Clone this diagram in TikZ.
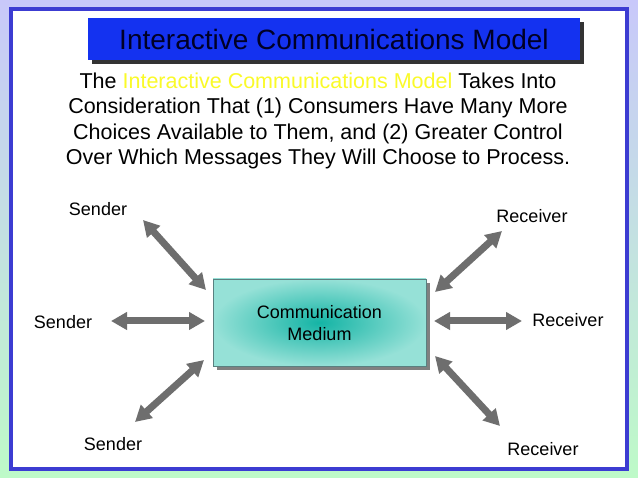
\documentclass[tikz,border=0pt]{standalone}
\usepackage{fontspec}
\setmainfont{Liberation Sans}
\usetikzlibrary{arrows.meta}
\definecolor{bgtop}{RGB}{200,200,250}
\definecolor{bgbot}{RGB}{190,250,200}
\definecolor{frame}{RGB}{60,60,210}
\definecolor{titleblue}{RGB}{20,50,240}
\definecolor{hl}{RGB}{250,250,40}
\definecolor{tealc}{RGB}{20,180,165}
\definecolor{teale}{RGB}{150,225,215}
\definecolor{arr}{RGB}{110,110,110}
\tikzset{
  lbl/.style={font=\fontsize{18}{20}\selectfont, inner sep=0pt},
  biarrow/.style={draw=arr, line width=7pt, {Triangle[width=17pt,length=16pt]}-{Triangle[width=17pt,length=16pt]}, shorten <=0pt, shorten >=0pt},
}
\begin{document}
\begin{tikzpicture}[x=1pt,y=-1pt]
\shade[top color=bgtop, bottom color=bgbot] (0,0) rectangle (638,478);
\useasboundingbox (0,0) rectangle (638,478);
\draw[frame, line width=4pt, fill=white] (11,9) rectangle (627,469);
% title
\fill[black!80] (92,22) rectangle (584,64);
\node[fill=titleblue, minimum width=492pt, minimum height=42pt, inner sep=0pt,
  font=\fontsize{28}{30}\selectfont, text=black!85!blue] (title) at (334,39) {Interactive Communications Model};
% body
\node[align=center, font=\fontsize{21.5}{25.5}\selectfont, inner sep=0pt] (body) at (318,121)
 {The {\color{hl}Interactive Communications Model} Takes Into\\
  Consideration That (1) Consumers Have Many More\\
  Choices Available to Them, and (2) Greater Control\\
  Over Which Messages They Will Choose to Process.};
% medium box
\fill[gray] (217,283) rectangle (430,370);
\shade[inner color=tealc, outer color=teale] (213,279) rectangle (426,366);
\draw[gray!70!teal] (213,279) rectangle (426,366);
\node[align=center, font=\fontsize{18}{22}\selectfont, inner sep=0pt] (med) at (319.5,323) {Communication\\Medium};
% labels
\node[lbl] (s1) at (98,209) {Sender};
\node[lbl] (s2) at (63,322) {Sender};
\node[lbl] (s3) at (113,444) {Sender};
\node[lbl] (r1) at (532,216) {Receiver};
\node[lbl] (r2) at (568,320) {Receiver};
\node[lbl] (r3) at (543,449) {Receiver};
% arrow endpoints
\coordinate (a1) at (143,220); \coordinate (b1) at (206,290);
\coordinate (a2) at (111,321); \coordinate (b2) at (205,321);
\coordinate (a3) at (135,422); \coordinate (b3) at (204,360);
\coordinate (a4) at (502,231); \coordinate (b4) at (435,292);
\coordinate (a5) at (522,321); \coordinate (b5) at (434,321);
\coordinate (a6) at (500,426); \coordinate (b6) at (435,356);
\foreach \i in {1,...,6} \draw[biarrow] (a\i) -- (b\i);
\end{tikzpicture}
\end{document}
